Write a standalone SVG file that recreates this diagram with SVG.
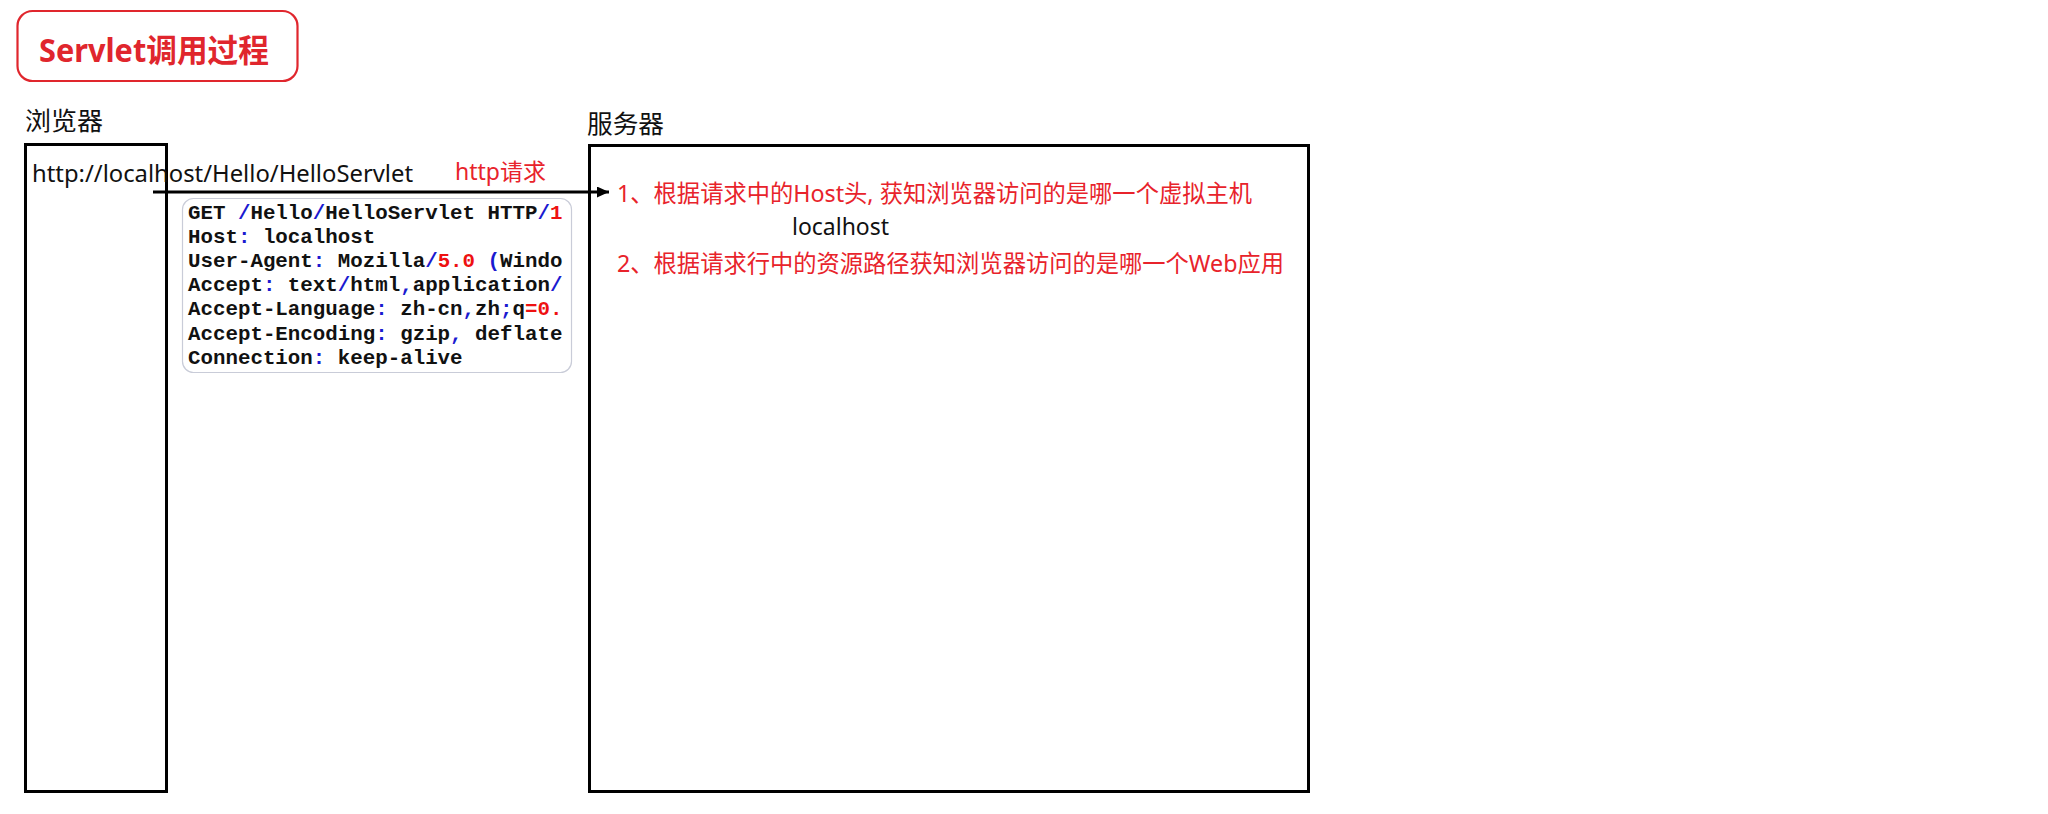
<svg xmlns="http://www.w3.org/2000/svg" width="2048" height="814" viewBox="0 0 2048 814">
<style>
.cjk{font-family:"Noto Sans","Noto Sans CJK SC",sans-serif;}
.lbl{font-size:25px;fill:#111;}
.red{fill:#e8232b;font-size:24px;}
.box{fill:none;stroke:#000;stroke-width:3;}
.code{font-family:"Liberation Mono","DejaVu Sans Mono",monospace;font-weight:bold;font-size:20.8px;fill:#111;}
.b{fill:#1a1ad0;}
.n{fill:#ee1111;}
</style>
<defs>
<clipPath id="codeClip"><rect x="183" y="199" width="380" height="172"/></clipPath>
<marker id="arr" viewBox="0 0 12 11" refX="12" refY="5.5" markerWidth="12" markerHeight="11" markerUnits="userSpaceOnUse" orient="auto"><path d="M0,0 L12,5.5 L0,11 Z" fill="#000"/></marker>
</defs>
<rect width="2048" height="814" fill="#fff"/>
<g id="title">
<rect x="17.5" y="11" width="280" height="70" rx="15" fill="#fff" stroke="#e0262d" stroke-width="2.2"/>
<text x="39" y="62" class="cjk" font-size="32" font-weight="bold" fill="#e0262d" textLength="230" lengthAdjust="spacingAndGlyphs">Servlet调用过程</text>
</g>
<g id="browser">
<text x="25" y="130" class="cjk lbl" textLength="78" lengthAdjust="spacingAndGlyphs">浏览器</text>
<rect x="25.5" y="144.5" width="141" height="647" class="box"/>
<text x="32" y="182" class="cjk" font-size="24" fill="#111" textLength="381" lengthAdjust="spacingAndGlyphs">http://localhost/Hello/HelloServlet</text>
</g>
<g id="connectors">
<line x1="153" y1="192" x2="609" y2="192" stroke="#000" stroke-width="3" marker-end="url(#arr)"/>
<text x="455" y="180" class="cjk" font-size="23" fill="#e8232b" textLength="91" lengthAdjust="spacingAndGlyphs">http请求</text>
</g>
<g id="request-headers">
<rect x="182.5" y="198.5" width="389" height="174" rx="11" fill="#fff" stroke="#c9ccd8" stroke-width="1.2"/>
<g clip-path="url(#codeClip)" class="code">
<text x="188" y="219">GET <tspan class="b">/</tspan>Hello<tspan class="b">/</tspan>HelloServlet HTTP<tspan class="b">/</tspan><tspan class="n">1</tspan></text>
<text x="188" y="243">Host<tspan class="b">:</tspan> localhost</text>
<text x="188" y="267">User-Agent<tspan class="b">:</tspan> Mozilla<tspan class="b">/</tspan><tspan class="n">5.0</tspan> <tspan class="b">(</tspan>Windo</text>
<text x="188" y="291">Accept<tspan class="b">:</tspan> text<tspan class="b">/</tspan>html<tspan class="b">,</tspan>application<tspan class="b">/</tspan></text>
<text x="188" y="315">Accept-Language<tspan class="b">:</tspan> zh-cn<tspan class="b">,</tspan>zh<tspan class="b">;</tspan>q<tspan class="n">=0.</tspan></text>
<text x="188" y="340">Accept-Encoding<tspan class="b">:</tspan> gzip<tspan class="b">,</tspan> deflate</text>
<text x="188" y="364">Connection<tspan class="b">:</tspan> keep-alive</text>
</g>
</g>
<g id="server">
<text x="587" y="133" class="cjk lbl" textLength="77" lengthAdjust="spacingAndGlyphs">服务器</text>
<rect x="589.5" y="145.5" width="719" height="646" class="box"/>
<text x="617" y="202" class="cjk red" textLength="635" lengthAdjust="spacingAndGlyphs">1、根据请求中的Host头, 获知浏览器访问的是哪一个虚拟主机</text>
<text x="792" y="235" class="cjk" font-size="24" fill="#111" textLength="97" lengthAdjust="spacingAndGlyphs">localhost</text>
<text x="617" y="272" class="cjk red" textLength="667" lengthAdjust="spacingAndGlyphs">2、根据请求行中的资源路径获知浏览器访问的是哪一个Web应用</text>
</g>
</svg>
